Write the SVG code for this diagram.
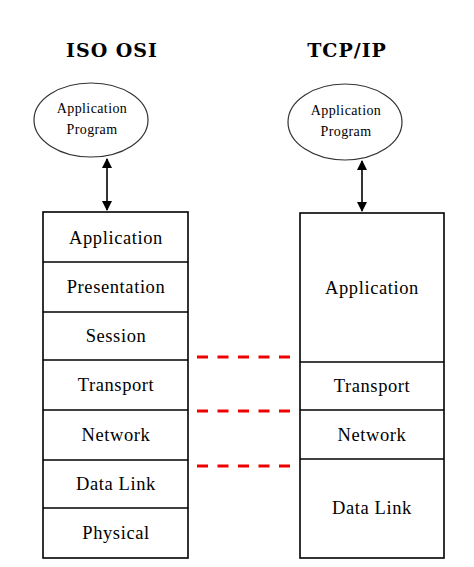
<svg xmlns="http://www.w3.org/2000/svg" width="474" height="567" viewBox="0 0 474 567">
<style>
.box{fill:#fff;stroke:#000;stroke-width:1.6}
.div{stroke:#000;stroke-width:1.6}
.lbl{font-family:"Liberation Serif",serif;font-size:18.5px;letter-spacing:0.6px;text-anchor:middle;dominant-baseline:central;fill:#000}
.el{fill:#fff;stroke:#333;stroke-width:1.2}
.elt{font-family:"Liberation Serif",serif;font-size:14px;letter-spacing:0.4px;text-anchor:middle;fill:#000}
.ttl{font-family:"DejaVu Serif",serif;font-weight:bold;font-size:19px;text-anchor:middle;fill:#000;letter-spacing:1px}
.dash{stroke:#e00;stroke-width:3;stroke-dasharray:11 9.5}
.arr{stroke:#000;stroke-width:1.6;marker-start:url(#ah);marker-end:url(#ah)}
</style>
<defs>
<marker id="ah" viewBox="0 0 10 10" refX="9" refY="5" markerWidth="10" markerHeight="10" markerUnits="userSpaceOnUse" orient="auto-start-reverse">
<path d="M0,0 L10,5 L0,10 z" fill="#000"/>
</marker>
</defs>
<text class="ttl" x="112" y="57">ISO OSI</text>
<text class="ttl" x="347" y="57">TCP/IP</text>
<g id="osi-app-program">
<ellipse class="el" cx="91" cy="120" rx="57" ry="37"/>
<text class="elt" x="92" y="113">Application</text>
<text class="elt" x="92" y="134">Program</text>
</g>
<g id="tcp-app-program">
<ellipse class="el" cx="345" cy="122" rx="57" ry="38"/>
<text class="elt" x="346" y="115">Application</text>
<text class="elt" x="346" y="136">Program</text>
</g>
<g id="osi-stack">
<rect class="box" x="43" y="212" width="145" height="346"/>
<line class="div" x1="43" y1="262" x2="188" y2="262"/>
<line class="div" x1="43" y1="312" x2="188" y2="312"/>
<line class="div" x1="43" y1="360" x2="188" y2="360"/>
<line class="div" x1="43" y1="410" x2="188" y2="410"/>
<line class="div" x1="43" y1="460" x2="188" y2="460"/>
<line class="div" x1="43" y1="508" x2="188" y2="508"/>
<text class="lbl" x="116" y="238">Application</text>
<text class="lbl" x="116" y="287">Presentation</text>
<text class="lbl" x="116" y="336">Session</text>
<text class="lbl" x="116" y="385">Transport</text>
<text class="lbl" x="116" y="435">Network</text>
<text class="lbl" x="116" y="484">Data Link</text>
<text class="lbl" x="116" y="533">Physical</text>
</g>
<g id="tcp-stack">
<rect class="box" x="300" y="213" width="144" height="345"/>
<line class="div" x1="300" y1="362" x2="444" y2="362"/>
<line class="div" x1="300" y1="410" x2="444" y2="410"/>
<line class="div" x1="300" y1="459" x2="444" y2="459"/>
<text class="lbl" x="372" y="288">Application</text>
<text class="lbl" x="372" y="386">Transport</text>
<text class="lbl" x="372" y="435">Network</text>
<text class="lbl" x="372" y="508">Data Link</text>
</g>
<g id="connectors">
<line class="arr" x1="107" y1="159" x2="107" y2="210"/>
<line class="arr" x1="362" y1="161" x2="362" y2="211"/>
<line class="dash" x1="197" y1="357" x2="290" y2="357"/>
<line class="dash" x1="197" y1="411" x2="290" y2="411"/>
<line class="dash" x1="197" y1="466" x2="290" y2="466"/>
</g>
</svg>
